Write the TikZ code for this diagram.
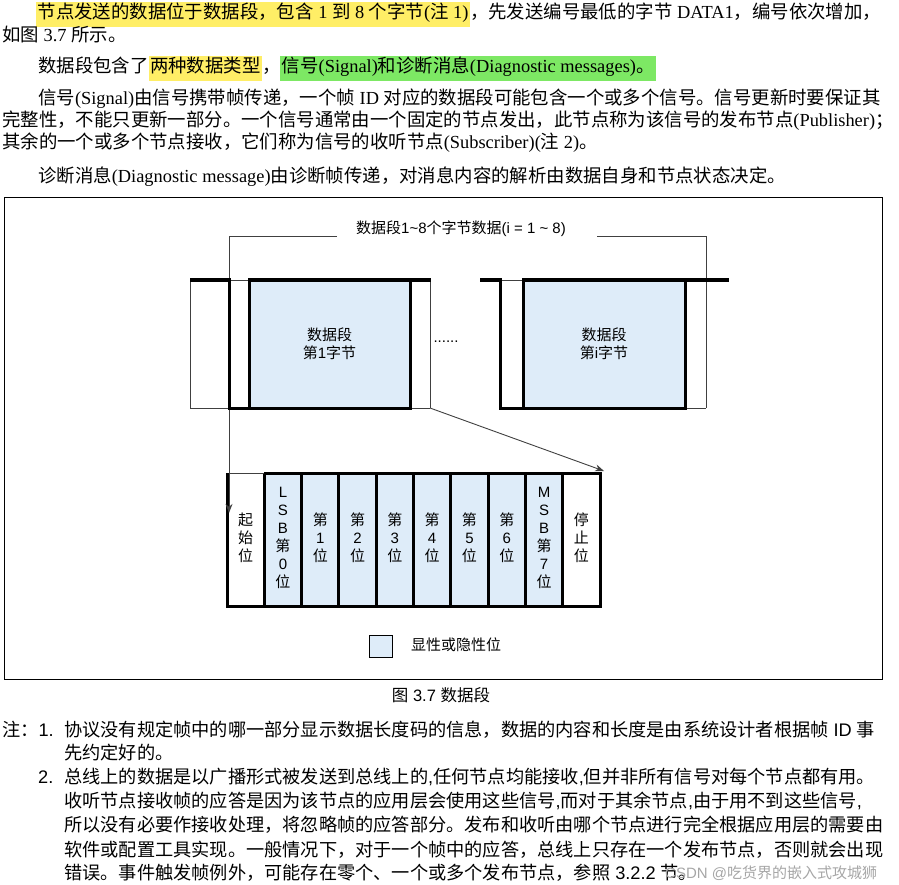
\documentclass[tikz,border=0pt]{standalone}
\usepackage{fontspec}
\setmainfont{Liberation Serif}
\setsansfont{Liberation Sans}
\newfontfamily\cjk{Noto Sans CJK SC}
\usetikzlibrary{arrows.meta}
\XeTeXinterchartokenstate=1
\newXeTeXintercharclass\cjkcls
\count255="3000 \loop \XeTeXcharclass\count255=\cjkcls \advance\count255 1 \ifnum\count255<"3040 \repeat
\count255="4E00 \loop \XeTeXcharclass\count255=\cjkcls \advance\count255 1 \ifnum\count255<"A000 \repeat
\count255="FF00 \loop \XeTeXcharclass\count255=\cjkcls \advance\count255 1 \ifnum\count255<"FFF0 \repeat
\XeTeXinterchartoks 0 \cjkcls={\begingroup\cjk}
\XeTeXinterchartoks 4095 \cjkcls={\begingroup\cjk}
\XeTeXinterchartoks \cjkcls 0={\endgroup}
\XeTeXinterchartoks \cjkcls 4095={\endgroup}
\definecolor{hly}{RGB}{255,238,102}
\definecolor{hlg}{RGB}{125,232,100}
\definecolor{cellblue}{RGB}{222,236,249}
\newcommand{\hlt}[2]{{\setlength\fboxsep{1.5pt}\colorbox{#1}{\strut #2}}}
\tikzset{
 body/.style={anchor=base west,inner sep=0,font=\fontsize{18.4}{21}\selectfont},
 note/.style={anchor=base west,inner sep=0,font=\sffamily\fontsize{18.2}{21}\selectfont},
 thk/.style={line width=3pt},
 thn/.style={line width=0.9pt,draw=black!75},
 dlab/.style={font=\sffamily\fontsize{15}{18}\selectfont,align=center,inner sep=0},
}
\begin{document}
\begin{tikzpicture}[x=1pt,y=-1pt]
\useasboundingbox (0,0) rectangle (899,885);
% paragraphs
\node[body] (p1a) at (36,19) {\hlt{hly}{节点发送的数据位于数据段，包含 1 到 8 个字节(注 1)}，先发送编号最低的字节 DATA1，编号依次增加，};
\node[body] (p1b) at (2,42) {如图 3.7 所示。};
\node[body] (p2) at (38,73) {数据段包含了\hlt{hly}{两种数据类型}，\hlt{hlg}{信号(Signal)和诊断消息(Diagnostic messages)。}};
\node[body] (p3a) at (38,105) {信号(Signal)由信号携带帧传递，一个帧 ID 对应的数据段可能包含一个或多个信号。信号更新时要保证其};
\node[body] (p3b) at (2,127) {完整性，不能只更新一部分。一个信号通常由一个固定的节点发出，此节点称为该信号的发布节点(Publisher)；};
\node[body] (p3c) at (2,149) {其余的一个或多个节点接收，它们称为信号的收听节点(Subscriber)(注 2)。};
\node[body] (p4) at (38,183) {诊断消息(Diagnostic message)由诊断帧传递，对消息内容的解析由数据自身和节点状态决定。};
% frame
\draw[line width=0.9pt] (4,197) rectangle (882,679);
% bracket
\node[dlab] (br) at (461,229) {数据段1\textasciitilde8个字节数据(i = 1 \textasciitilde\ 8)};
\coordinate (bl) at (229,236);
\coordinate (brr) at (706,236);
\draw[thn] (337,236) -- (bl) -- (229,473);
\draw[thn] (597,236) -- (brr) -- (706,408);
% thin outlines
\draw[thn] (190,280) -- (190,408) -- (430,408);
\draw[thn] (229,280) -- (431,280);
\draw[thn] (430,280) -- (430,408);
\draw[thn] (500,280) -- (523,280);
\draw[thn] (500,408) -- (706,408);
% byte boxes
\draw[thk,fill=cellblue] (249,280) rectangle (410,408);
\draw[thk,fill=cellblue] (523,280) rectangle (685,408);
\node[dlab] (b1) at (329.5,344) {数据段\\第1字节};
\node[dlab] (bi) at (604,344) {数据段\\第i字节};
\node[dlab] (dots) at (446,342) {......};
% signal lines
\draw[thk] (190,280) -- (229,280) -- (229,408) -- (249,408);
\draw[thk] (249,280) -- (431,280);
\draw[thk] (480,280) -- (500,280) -- (500,408) -- (523,408);
\draw[thk] (685,280) -- (729,280);
% bits
\foreach \i/\t/\f in {0/{起\\始\\位}/white,1/{L\\S\\B\\第\\0\\位}/cellblue,2/{第\\1\\位}/cellblue,3/{第\\2\\位}/cellblue,4/{第\\3\\位}/cellblue,5/{第\\4\\位}/cellblue,6/{第\\5\\位}/cellblue,7/{第\\6\\位}/cellblue,8/{M\\S\\B\\第\\7\\位}/cellblue,9/{停\\止\\位}/white}{
  \fill[\f] ({227+37.3*\i},473) rectangle ({227+37.3*(\i+1)},606);
  \node[dlab] (bit\i) at ({227+37.3*(\i+0.5)},538) {\t};
}
\foreach \i in {1,...,9}{\draw[thk] ({227+37.3*\i},473) -- ({227+37.3*\i},606);}
\draw[thn] (227,473) -- (264,473);
\draw[thk] (264,473) -- (600,473) -- (600,606) -- (227,606) -- (227,473);
% arrows
\draw[thn,-{Stealth[length=9pt,width=7pt]}] (229,440) -- (bit0.north -| 229,473);
\draw[thn,-{Stealth[length=9pt,width=7pt]}] (430,408) -- (604,471);
% legend
\draw[line width=0.9pt,fill=cellblue] (369,635) rectangle (392,657) node (lg) {};
\node[dlab,anchor=west] (lgt) at (411,645) {显性或隐性位};
% caption
\node[anchor=base,inner sep=0,font=\sffamily\fontsize{16.5}{20}\selectfont] (cap) at (441,701) {图 3.7 数据段};
% notes
\node[note] (n1) at (2,736) {注：1.};
\node[note] (n1a) at (64,736) {协议没有规定帧中的哪一部分显示数据长度码的信息，数据的内容和长度是由系统设计者根据帧 ID 事};
\node[note] (n1b) at (64,759) {先约定好的。};
\node[note] (n2) at (38,783) {2.};
\node[note] (n2a) at (64,783) {总线上的数据是以广播形式被发送到总线上的,任何节点均能接收,但并非所有信号对每个节点都有用。};
\node[note] (n2b) at (64,807) {收听节点接收帧的应答是因为该节点的应用层会使用这些信号,而对于其余节点,由于用不到这些信号,};
\node[note] (n2c) at (64,831) {所以没有必要作接收处理，将忽略帧的应答部分。发布和收听由哪个节点进行完全根据应用层的需要由};
\node[note] (n2d) at (64,856) {软件或配置工具实现。一般情况下，对于一个帧中的应答，总线上只存在一个发布节点，否则就会出现};
\node[note] (n2e) at (64,879) {错误。事件触发帧例外，可能存在零个、一个或多个发布节点，参照 3.2.2 节。};
\node[anchor=base west,inner sep=0,text=black!35,font=\sffamily\fontsize{15}{18}\selectfont] (wm) at (665,878) {CSDN @吃货界的嵌入式攻城狮};
\end{tikzpicture}
\end{document}
